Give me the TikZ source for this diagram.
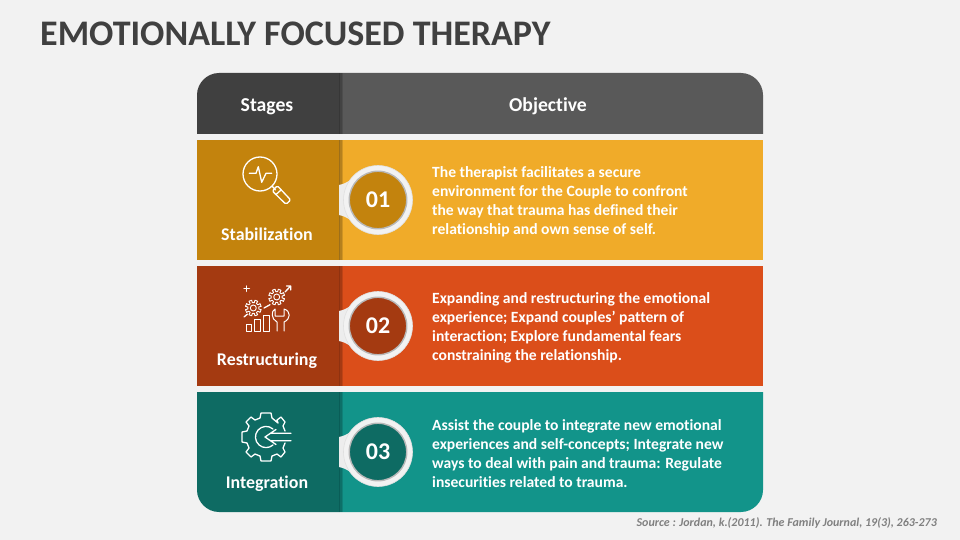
\documentclass[tikz,border=0pt]{standalone}
\usepackage{fontspec}
\setmainfont[Ligatures=NoCommon]{Carlito}
\definecolor{pagegray}{HTML}{F2F2F2}
\definecolor{headdark}{HTML}{404040}
\definecolor{headlight}{HTML}{595959}
\definecolor{stabdark}{HTML}{C3830D}
\definecolor{stablight}{HTML}{F0AB29}
\definecolor{restdark}{HTML}{A43A11}
\definecolor{restlight}{HTML}{DB4E1A}
\definecolor{integdark}{HTML}{0E6B63}
\definecolor{integlight}{HTML}{12948A}
\tikzset{
	rowtext/.style={anchor=west, align=left, inner sep=0pt, text=white, font=\bfseries\fontsize{15.6}{19}\selectfont},
	headtext/.style={text=white, font=\bfseries\fontsize{19.7}{20}\selectfont},
	stagetext/.style={text=white, font=\bfseries\fontsize{17.9}{20}\selectfont},
	ring/.style={draw=black!12, line width=0.6pt, circle, fill=pagegray, minimum size=69pt, inner sep=0pt},
	numdisc/.style={draw=black!28, line width=1.4pt, circle, minimum size=57.5pt, inner sep=0pt, text=white, font=\bfseries\fontsize{24}{24}\selectfont},
	neck/.style={fill=black!7},
	edgeshade/.style={fill=black, opacity=0.13},
	iconline/.style={draw=white, line width=1.3pt, line join=round, line cap=round},
}
\begin{document}
\begin{tikzpicture}[x=1pt, y=-1pt]
	\fill[pagegray] (0,0) rectangle (960,540);
	\useasboundingbox (0,0) rectangle (960,540);
	\node[anchor=west, inner sep=0pt, text=headdark, font=\bfseries\fontsize{36}{38}\selectfont] (title) at (40,34) {EMOTIONALLY FOCUSED THERAPY};
	% coloured bands
	\fill[headlight] (339,73) -- (741,73) .. controls (753,73) and (763,83) .. (763,95) -- (763,134) -- (339,134) -- cycle;
	\fill[headdark] (339,134) -- (197,134) -- (197,95) .. controls (197,83) and (207,73) .. (219,73) -- (339,73) -- cycle;
	\fill[stablight] (339,140) rectangle (763,260);
	\fill[stabdark] (197,140) rectangle (339,260);
	\fill[restlight] (339,266) rectangle (763,386);
	\fill[restdark] (197,266) rectangle (339,386);
	\fill[integlight] (339,392) -- (763,392) -- (763,490) .. controls (763,502) and (753,512) .. (741,512) -- (339,512) -- cycle;
	\fill[integdark] (339,392) -- (339,512) -- (219,512) .. controls (207,512) and (197,502) .. (197,490) -- (197,392) -- cycle;
	% shade right of the first column
	\fill[edgeshade] (339,73) rectangle (340,134);
	\fill[edgeshade] (339,73) rectangle (341.5,134);
	\fill[edgeshade] (339,73) rectangle (343,134);
	\fill[edgeshade] (339,140) rectangle (340,260);
	\fill[edgeshade] (339,140) rectangle (341.5,260);
	\fill[edgeshade] (339,140) rectangle (343,260);
	\fill[edgeshade] (339,266) rectangle (340,386);
	\fill[edgeshade] (339,266) rectangle (341.5,386);
	\fill[edgeshade] (339,266) rectangle (343,386);
	\fill[edgeshade] (339,392) rectangle (340,512);
	\fill[edgeshade] (339,392) rectangle (341.5,512);
	\fill[edgeshade] (339,392) rectangle (343,512);
	% header
	\node[headtext] (stages) at (267,106.5) {Stages};
	\node[headtext] (objective) at (548,106.5) {Objective};
	% badges
	\fill[neck, shift={(0,200)}] (339,-15) .. controls (348,-17) and (352,-21) .. (358,-26) -- (358,26) .. controls (352,21) and (348,17) .. (339,15) -- cycle;
	\fill[neck, shift={(0,326)}] (339,-15) .. controls (348,-17) and (352,-21) .. (358,-26) -- (358,26) .. controls (352,21) and (348,17) .. (339,15) -- cycle;
	\fill[neck, shift={(0,452)}] (339,-15) .. controls (348,-17) and (352,-21) .. (358,-26) -- (358,26) .. controls (352,21) and (348,17) .. (339,15) -- cycle;
	\node[ring] (ring1) at (378,200) {};
	\node[ring] (ring2) at (378,326) {};
	\node[ring] (ring3) at (378,452) {};
	\node[numdisc, fill=stabdark] (num1) at (ring1) {01};
	\node[numdisc, fill=restdark] (num2) at (ring2) {02};
	\node[numdisc, fill=integdark] (num3) at (ring3) {03};
	% stage names
	\node[stagetext] (stab) at (267,234) {Stabilization};
	\node[stagetext] (rest) at (267,360.5) {Restructuring};
	\node[stagetext] (integ) at (267,483.5) {Integration};
	% objectives
	\node[rowtext] (obj1) at (432,202) {The therapist facilitates a secure\\environment for the Couple to confront\\the way that trauma has defined their\\relationship and own sense of self.};
	\node[rowtext] (obj2) at (432,328) {Expanding and restructuring the emotional\\experience; Expand couples' pattern of\\interaction; Explore fundamental fears\\constraining the relationship.};
	\node[rowtext] (obj3) at (432,454) {Assist the couple to integrate new emotional\\experiences and self-concepts; Integrate new\\ways to deal with pain and trauma: Regulate\\insecurities related to trauma.};
	\node[anchor=east, inner sep=0pt, text=black!50, font=\bfseries\itshape\fontsize{12}{13}\selectfont] (source) at (937,523) {Source : Jordan, k.(2011). The Family Journal, 19(3), 263-273};
	% magnifier icon
	\draw[iconline] (260,174) circle (17);
	\draw[iconline] (249.3,173.3) -- (256,173.3) -- (258.3,166.7) -- (261.7,182.3) -- (266,173.3) -- (271.7,173.3);
	\draw[iconline] (272,186) -- (275.5,190);
	\draw[iconline, rounded corners=1.5pt] (277.3,185.7) -- (290.7,200) -- (286,204.3) -- (272.3,191) -- cycle;
	\draw[iconline] (281,190) -- (276,194.5);
	% gears and wrench icon
	\draw[iconline] (244,288.7) -- (249.4,288.7) (246.7,286) -- (246.7,291.4);
	\draw[iconline, shift={(253.3,308)}, line width=0.9pt] (0,0) circle (3) \foreach \a in {0,45,...,315} {(\a+10:5.5) -- (\a+12:8) -- (\a+33:8) -- (\a+35:5.5) arc[start angle=\a+35, end angle=\a+55, radius=5.5]};
	\draw[iconline, shift={(276.7,297)}, line width=0.9pt] (0,0) circle (3) \foreach \a in {0,45,...,315} {(\a+10:5.5) -- (\a+12:8) -- (\a+33:8) -- (\a+35:5.5) arc[start angle=\a+35, end angle=\a+55, radius=5.5]};
	\draw[iconline] (244,317) -- (247.5,314) (264,308) -- (270,304.7);
	\draw[iconline] (285,292) -- (290.7,286) (286.5,286) -- (290.7,286) -- (290.7,290);
	\draw[iconline, line width=1pt] (246,324.7) rectangle (251.3,331.3) (254.3,319.3) rectangle (260.3,331.3) (263,315.3) rectangle (269,331.3);
	\draw[iconline, line width=1pt] (277,331) -- (277,322) .. controls (271,319) and (271,311) .. (275,309) -- (275,316) -- (284,316) -- (284,309) .. controls (291,311) and (291,319) .. (284,322) -- (284,331);
	% gear and arrow icon
	\draw[iconline, shift={(266,437)}] (12,-14) -- (11,-17) -- (15,-20) -- (19,-15) -- (17,-11) -- (19,-6) (19,6) -- (17,11) -- (19,15) -- (15,20) -- (11,17) -- (6,19) -- (5,24) -- (-5,24) -- (-6,19) -- (-11,17) -- (-15,20) -- (-20,15) -- (-17,11) -- (-19,6) -- (-24,5) -- (-24,-5) -- (-19,-6) -- (-17,-11) -- (-20,-15) -- (-15,-20) -- (-11,-17) -- (-6,-19) -- (-5,-24) -- (5,-24) -- (6,-19) -- (12,-14);
	\draw[iconline, shift={(266,437)}] (7,-8) arc[start angle=-49, end angle=-311, radius=10.6];
	\draw[iconline, shift={(266,437)}] (10,-7.5) -- (-1,0) -- (10,7.5) (5,-3.8) -- (25,-3.8) (5,3.8) -- (25,3.8);
\end{tikzpicture}
\end{document}
